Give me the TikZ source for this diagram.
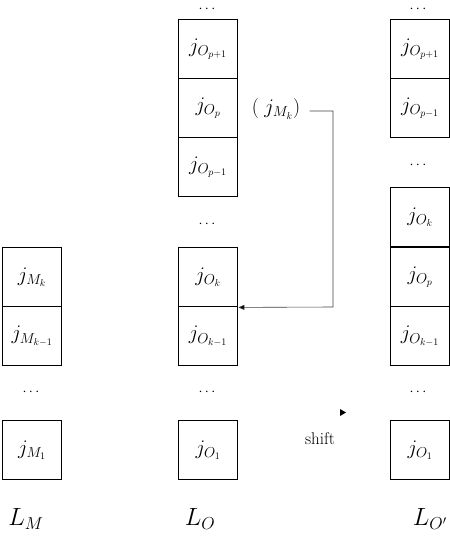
\documentclass[tikz,border=0pt]{standalone}
\usetikzlibrary{arrows.meta}
\begin{document}
\begin{tikzpicture}[x=1pt,y=-1pt,
  cell/.style={draw,line width=1.4pt,minimum width=59pt,minimum height=59pt,inner sep=0pt,font=\fontsize{20}{23}\selectfont,anchor=north west},
  dots/.style={font=\fontsize{15}{17}\selectfont},
  lab/.style={font=\fontsize{24}{28}\selectfont},
  conn/.style={draw=black!75,line width=0.6pt,-{Triangle[length=6pt,width=5pt,fill=black]}}]
\useasboundingbox (0,0) rectangle (450,536);
% column L_M
\node[cell] (mk) at (2,247) {$j_{M_k}$};
\node[cell] (mk1) at (2,306) {$j_{M_{k-1}}$};
\node[dots] (md) at (31,392) {$\cdots$};
\node[cell] (m1) at (2,420) {$j_{M_1}$};
\node[lab] (LM) at (26,519) {$L_M$};
% column L_O
\node[dots,inner sep=0pt] (od0) at (207,9) {$\cdots$};
\node[cell] (opp) at (178,19) {$j_{O_{p+1}}$};
\node[cell] (op) at (178,78) {$j_{O_p}$};
\node[cell] (opm) at (178,137) {$j_{O_{p-1}}$};
\node[dots] (od1) at (207,224) {$\cdots$};
\node[cell] (ok) at (178,247) {$j_{O_k}$};
\node[cell] (ok1) at (178,306) {$j_{O_{k-1}}$};
\node[dots] (od2) at (207,392) {$\cdots$};
\node[cell] (o1) at (178,420) {$j_{O_1}$};
\node[lab] (LO) at (200,519) {$L_O$};
% column L_O'
\node[dots,inner sep=0pt] (pd0) at (418,9) {$\cdots$};
\node[cell] (qpp) at (390,19) {$j_{O_{p+1}}$};
\node[cell] (qpm) at (390,78) {$j_{O_{p-1}}$};
\node[dots] (pd1) at (418,165) {$\cdots$};
\node[cell] (qk) at (390,187) {$j_{O_k}$};
\node[cell] (qp) at (390,247) {$j_{O_p}$};
\node[cell] (qk1) at (390,306) {$j_{O_{k-1}}$};
\node[dots] (pd2) at (418,392) {$\cdots$};
\node[cell] (q1) at (390,420) {$j_{O_1}$};
\node[lab] (LQ) at (430,519) {$L_{O'}$};
% moved element label and connector
\node[font=\fontsize{20}{23}\selectfont] (jm) at (276,109) {(\;$j_{M_k}$)};
\coordinate (c1) at (333,111);
\coordinate (c2) at (333,307);
\draw[conn] ([xshift=6pt]jm.east |- c1) -- (c1) -- (c2) -- (ok.south east);
% shift
\node[font=\fontsize{17}{19}\selectfont] (sh) at (320,439) {shift};
\fill (340,409) -- (346,412.5) -- (340,416) -- cycle;
\end{tikzpicture}
\end{document}
